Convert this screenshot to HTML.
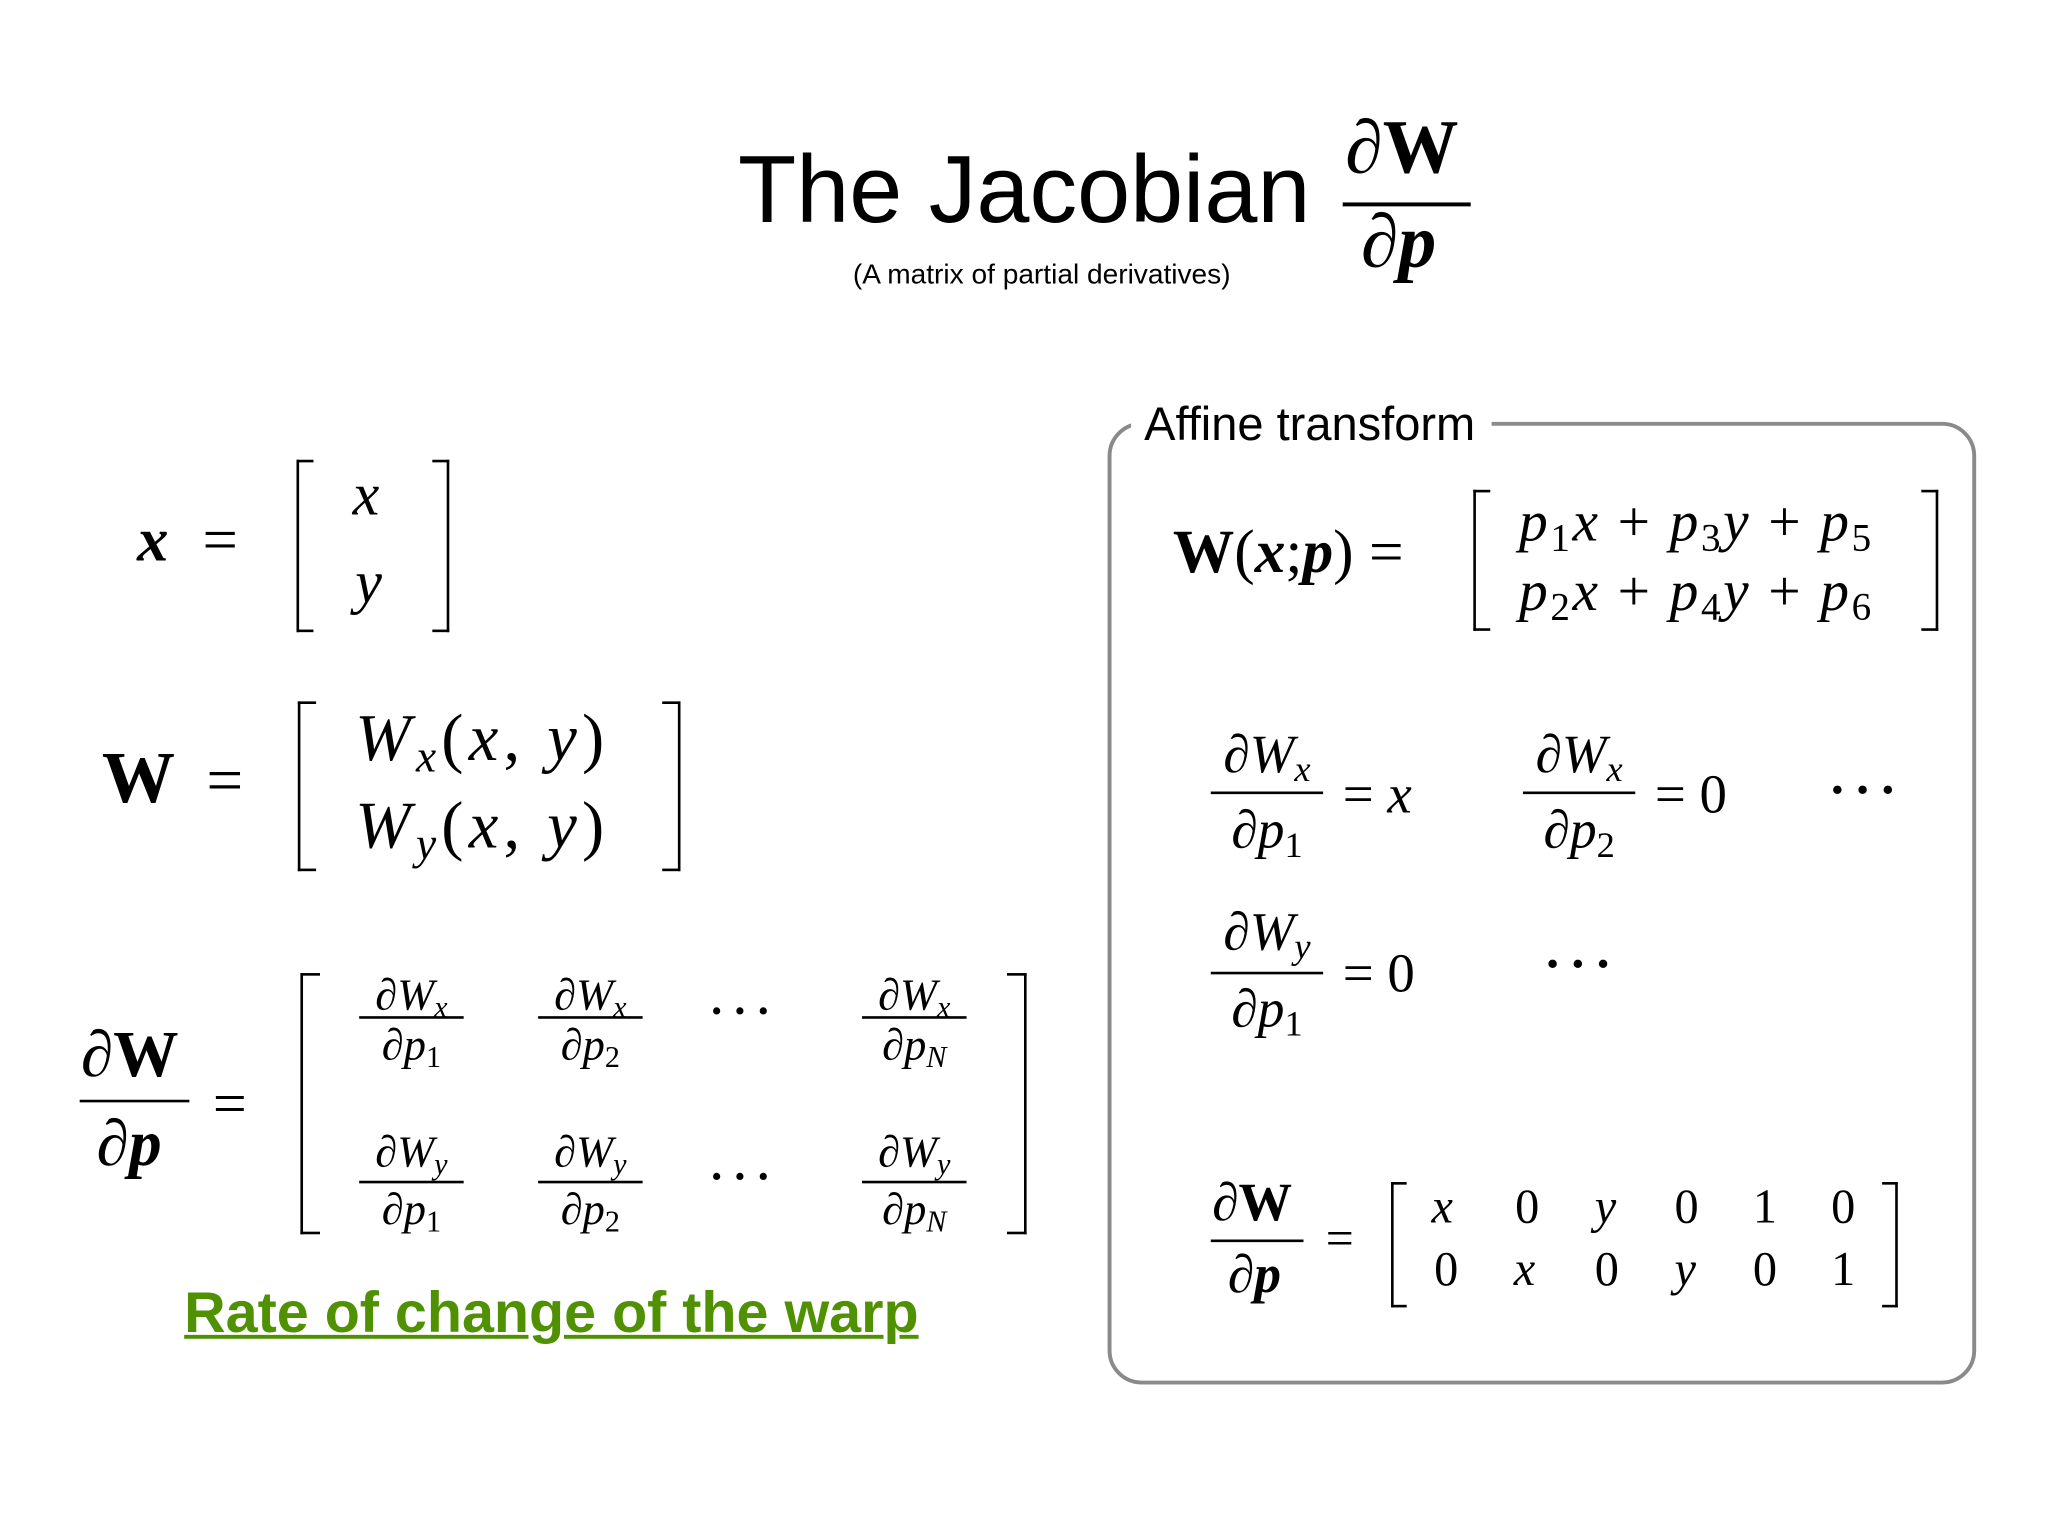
<!DOCTYPE html>
<html><head><meta charset="utf-8"><style>
body{margin:0;background:#fff;width:2048px;height:1536px;overflow:hidden}
#w{position:absolute;left:0;top:0;width:1568px;height:1176px;transform:scale(1.30612);transform-origin:0 0}
.t{position:absolute;line-height:1;white-space:nowrap;font-family:"Liberation Serif",serif;font-style:italic;color:#000}
.s{font-family:"Liberation Sans",sans-serif;font-style:normal}
.n{font-style:normal}
.b{font-weight:bold;font-style:normal}
.bi{font-weight:bold;font-style:italic}
.sb{font-size:.68em;vertical-align:-.25em;font-style:normal}
.sbi{font-size:.68em;vertical-align:-.25em}
.fr{position:absolute;text-align:center;line-height:1;font-family:"Liberation Serif",serif;font-style:italic}
.fr div{position:absolute;left:0;right:0}
.ln{position:absolute;height:2px;background:#000}
.bl{position:absolute;border:2.5px solid #000;border-right:none}
.br{position:absolute;border:2.5px solid #000;border-left:none}
.d{font-weight:bold}
</style></head><body><div id="w">

<div class="t s" style="left:565px;top:109px;font-size:73px">The Jacobian</div>
<div class="t s" style="left:653px;top:200px;font-size:21.5px">(A matrix of partial derivatives)</div>
<div class="t" style="left:1030px;top:84px;font-size:58px">∂<span class="b">W</span></div>
<div class="ln" style="left:1028px;top:155px;width:98px;height:3px"></div>
<div class="t" style="left:1042px;top:156px;font-size:58px">∂<span class="bi">p</span></div>

<div class="t bi" style="left:105px;top:390px;font-size:48px">x</div>
<div class="t n" style="left:155px;top:390px;font-size:48px">=</div>
<div class="bl" style="left:227px;top:352px;width:11px;height:128px"></div>
<div class="br" style="left:331px;top:352px;width:11px;height:128px"></div>
<div class="t" style="left:270px;top:356px;font-size:46px">x</div>
<div class="t" style="left:272px;top:423px;font-size:46px">y</div>

<div class="t b" style="left:78px;top:568px;font-size:56px">W</div>
<div class="t n" style="left:158px;top:572px;font-size:50px">=</div>
<div class="bl" style="left:228px;top:537px;width:12px;height:126px"></div>
<div class="br" style="left:507px;top:537px;width:12px;height:126px"></div>
<div class="t" style="left:272px;top:541px;font-size:51px;letter-spacing:4px">W<span class="sbi">x</span><span class="n">(</span>x<span class="n">, </span>y<span class="n">)</span></div>
<div class="t" style="left:272px;top:608px;font-size:51px;letter-spacing:4px">W<span class="sbi">y</span><span class="n">(</span>x<span class="n">, </span>y<span class="n">)</span></div>

<div class="t" style="left:62px;top:782px;font-size:50px">∂<span class="b">W</span></div>
<div class="ln" style="left:61px;top:842px;width:84px"></div>
<div class="t" style="left:74px;top:850px;font-size:50px">∂<span class="bi">p</span></div>
<div class="t n" style="left:163px;top:822px;font-size:46px">=</div>
<div class="bl" style="left:230px;top:745px;width:13px;height:196px"></div>
<div class="br" style="left:771px;top:745px;width:13px;height:196px"></div>

<div class="fr" style="left:275px;top:0;width:80px;font-size:34px"><div style="top:746px">∂W<span class="sbi">x</span></div><div class="ln" style="top:778px"></div><div style="top:784px">∂p<span class="sb">1</span></div></div>
<div class="fr" style="left:412px;top:0;width:80px;font-size:34px"><div style="top:746px">∂W<span class="sbi">x</span></div><div class="ln" style="top:778px"></div><div style="top:784px">∂p<span class="sb">2</span></div></div>
<div class="fr" style="left:660px;top:0;width:80px;font-size:34px"><div style="top:746px">∂W<span class="sbi">x</span></div><div class="ln" style="top:778px"></div><div style="top:784px">∂p<span class="sbi">N</span></div></div>
<div class="fr" style="left:275px;top:0;width:80px;font-size:34px"><div style="top:866px">∂W<span class="sbi">y</span></div><div class="ln" style="top:904px"></div><div style="top:910px">∂p<span class="sb">1</span></div></div>
<div class="fr" style="left:412px;top:0;width:80px;font-size:34px"><div style="top:866px">∂W<span class="sbi">y</span></div><div class="ln" style="top:904px"></div><div style="top:910px">∂p<span class="sb">2</span></div></div>
<div class="fr" style="left:660px;top:0;width:80px;font-size:34px"><div style="top:866px">∂W<span class="sbi">y</span></div><div class="ln" style="top:904px"></div><div style="top:910px">∂p<span class="sbi">N</span></div></div>
<div class="t n d" style="left:543px;top:758px;font-size:34px;letter-spacing:-1px">· · ·</div>
<div class="t n d" style="left:543px;top:885px;font-size:34px;letter-spacing:-1px">· · ·</div>

<div class="t s" style="left:141px;top:984px;font-size:44px;font-weight:bold;color:#4f9100;text-decoration:underline;text-decoration-thickness:3px">Rate of change of the warp</div>

<div style="position:absolute;left:848px;top:323px;width:659px;height:731px;border:3px solid #8a8a8a;border-radius:26px"></div>
<div style="position:absolute;left:866px;top:310px;width:276px;height:30px;background:#fff"></div>
<div class="t s" style="left:876px;top:307px;font-size:36px">Affine transform</div>

<div class="t" style="left:898px;top:400px;font-size:47px"><span class="b">W</span><span class="n">(</span><span class="bi">x</span><span class="n">;</span><span class="bi">p</span><span class="n">) =</span></div>
<div class="bl" style="left:1128px;top:375px;width:11px;height:104px"></div>
<div class="br" style="left:1471px;top:375px;width:11px;height:104px"></div>
<div class="t" style="left:1163px;top:378px;font-size:44px;letter-spacing:2px">p<span class="sb">1</span>x <span class="n">+</span> p<span class="sb">3</span>y <span class="n">+</span> p<span class="sb">5</span></div>
<div class="t" style="left:1163px;top:431px;font-size:44px;letter-spacing:2px">p<span class="sb">2</span>x <span class="n">+</span> p<span class="sb">4</span>y <span class="n">+</span> p<span class="sb">6</span></div>

<div class="fr" style="left:927px;top:0;width:86px;font-size:41px"><div style="top:557px">∂W<span class="sbi">x</span></div><div class="ln" style="top:606px"></div><div style="top:615px">∂p<span class="sb">1</span></div></div>
<div class="t" style="left:1028px;top:588px;font-size:42px"><span class="n">=</span> x</div>
<div class="fr" style="left:1166px;top:0;width:86px;font-size:41px"><div style="top:557px">∂W<span class="sbi">x</span></div><div class="ln" style="top:606px"></div><div style="top:615px">∂p<span class="sb">2</span></div></div>
<div class="t n" style="left:1267px;top:588px;font-size:42px">= 0</div>
<div class="t n d" style="left:1400px;top:585px;font-size:40px;letter-spacing:-2px">· · ·</div>

<div class="fr" style="left:927px;top:0;width:86px;font-size:41px"><div style="top:693px">∂W<span class="sbi">y</span></div><div class="ln" style="top:744px"></div><div style="top:752px">∂p<span class="sb">1</span></div></div>
<div class="t n" style="left:1028px;top:725px;font-size:42px">= 0</div>
<div class="t n d" style="left:1182px;top:718px;font-size:40px;letter-spacing:-2px">· · ·</div>

<div class="t" style="left:928px;top:900px;font-size:41px">∂<span class="b">W</span></div>
<div class="ln" style="left:927px;top:949px;width:71px"></div>
<div class="t" style="left:940px;top:955px;font-size:41px">∂<span class="bi">p</span></div>
<div class="t n" style="left:1015px;top:930px;font-size:38px">=</div>
<div class="bl" style="left:1065px;top:905px;width:10px;height:92px"></div>
<div class="br" style="left:1441px;top:905px;width:10px;height:92px"></div>
<div class="t" style="left:1096px;top:906px;font-size:37px">x</div>
<div class="t n" style="left:1160px;top:906px;font-size:37px">0</div>
<div class="t" style="left:1221px;top:906px;font-size:37px">y</div>
<div class="t n" style="left:1282px;top:906px;font-size:37px">0</div>
<div class="t n" style="left:1342px;top:906px;font-size:37px">1</div>
<div class="t n" style="left:1402px;top:906px;font-size:37px">0</div>
<div class="t n" style="left:1098px;top:954px;font-size:37px">0</div>
<div class="t" style="left:1159px;top:954px;font-size:37px">x</div>
<div class="t n" style="left:1221px;top:954px;font-size:37px">0</div>
<div class="t" style="left:1282px;top:954px;font-size:37px">y</div>
<div class="t n" style="left:1342px;top:954px;font-size:37px">0</div>
<div class="t n" style="left:1402px;top:954px;font-size:37px">1</div>

</div></body></html>
